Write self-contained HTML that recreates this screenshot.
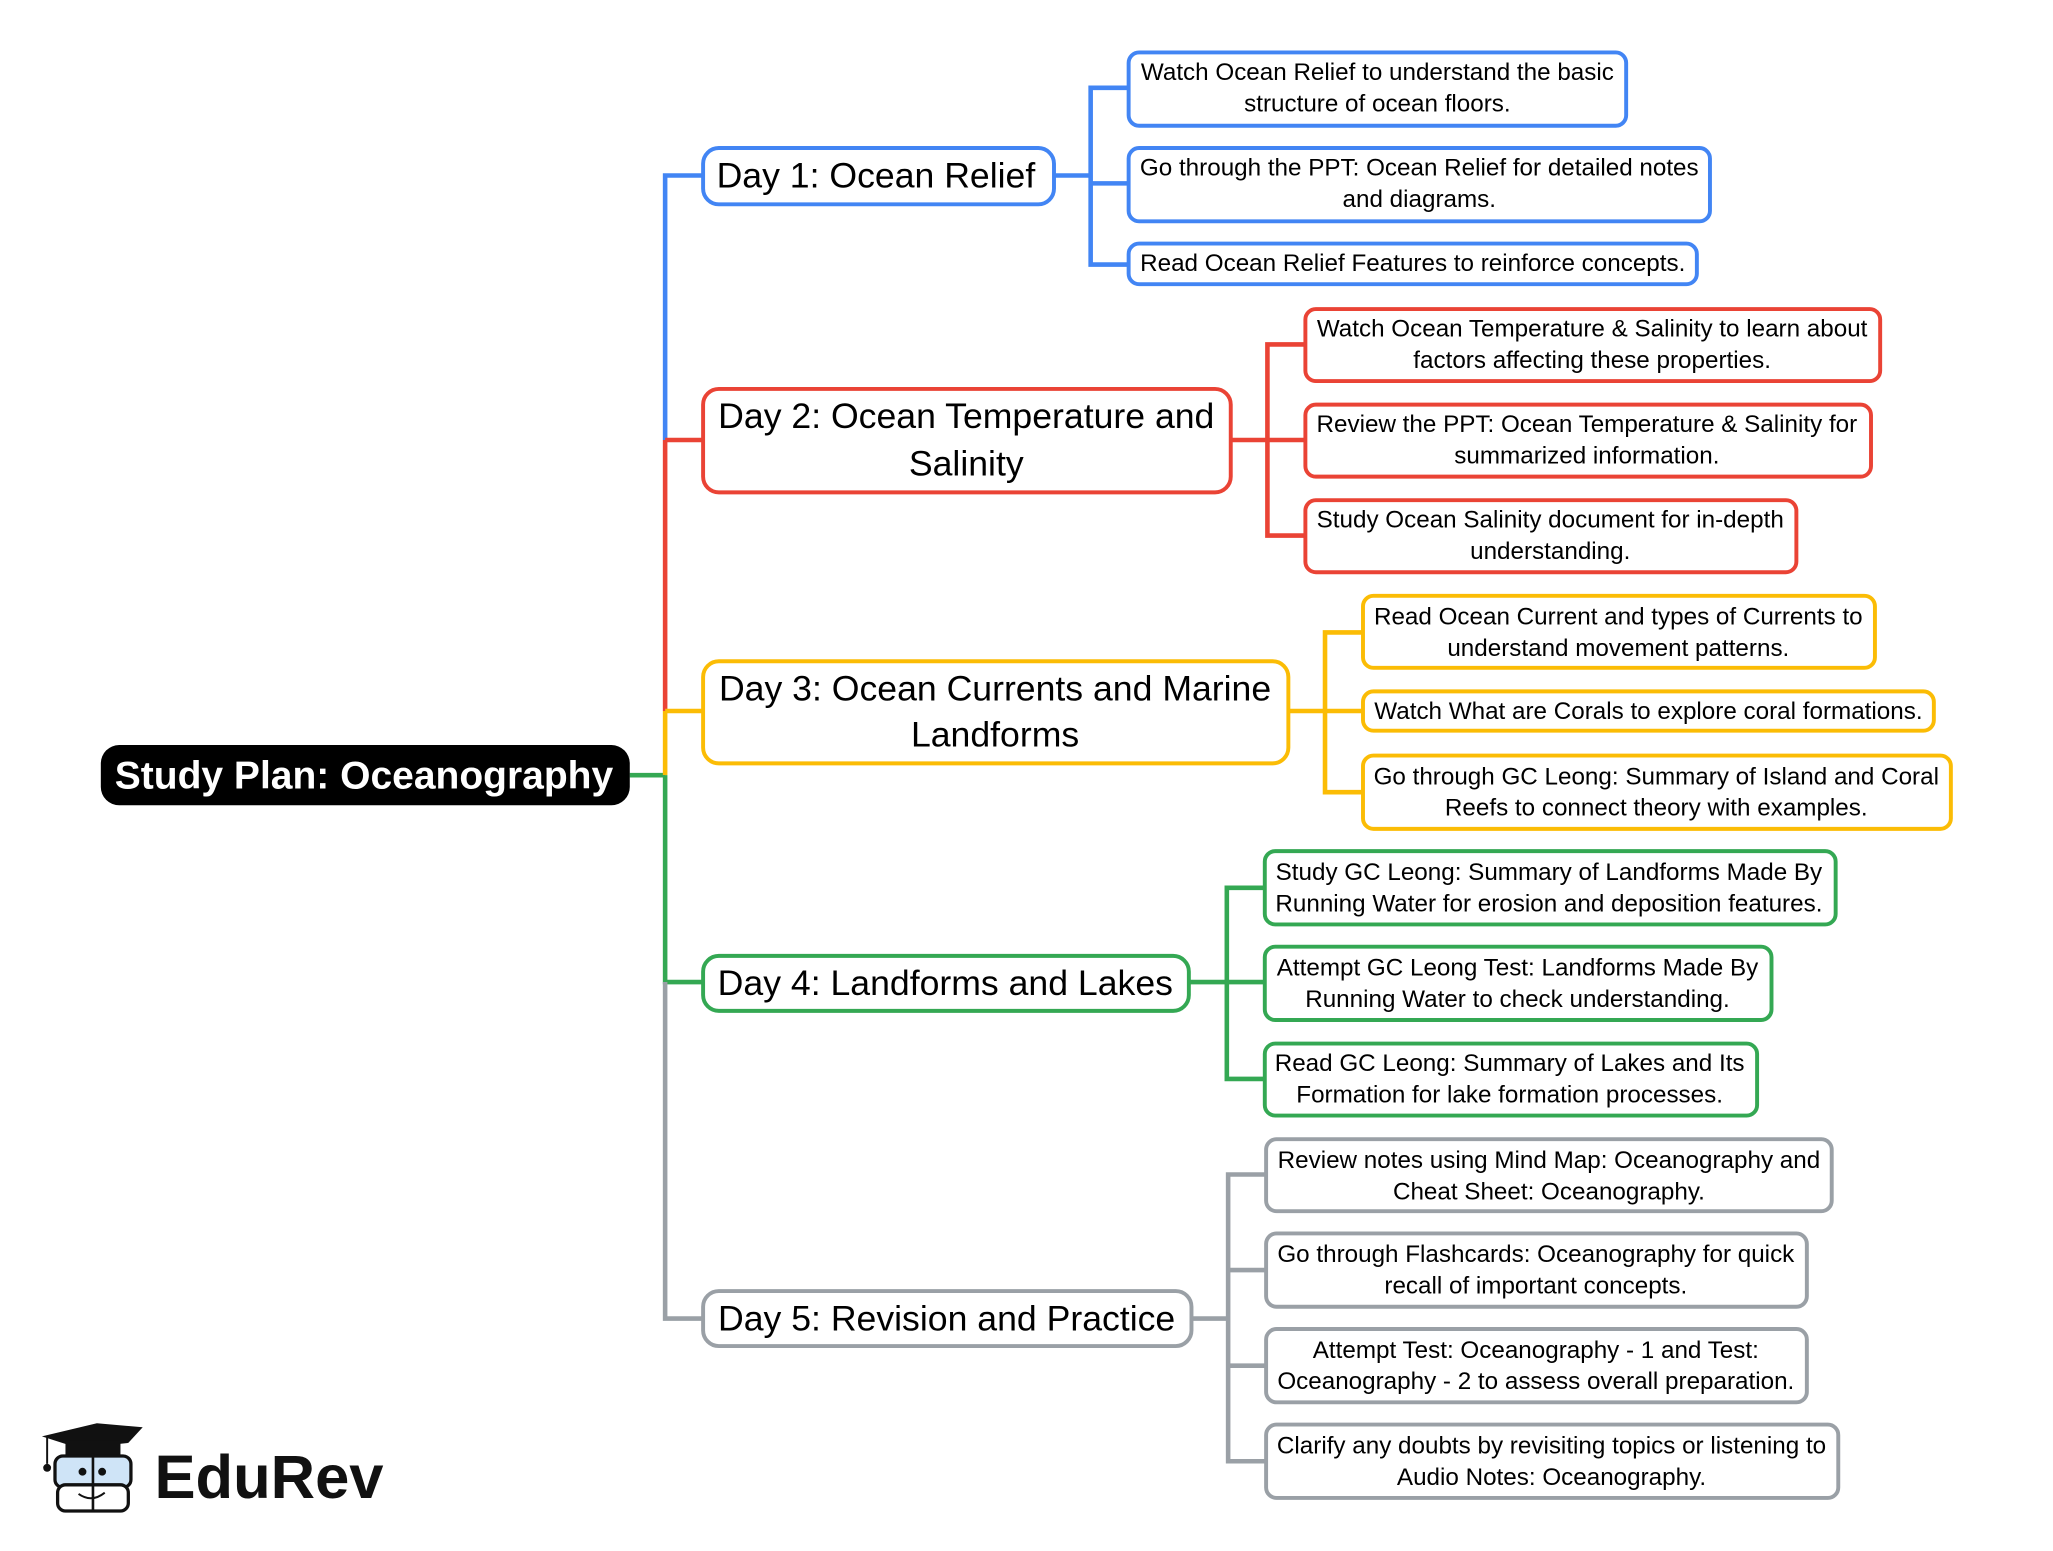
<!DOCTYPE html>
<html><head><meta charset="utf-8"><style>
html,body{margin:0;padding:0;background:#fff;width:2053px;height:1551px;overflow:hidden}
svg{display:block}
text{font-family:"Liberation Sans",Arial,sans-serif;fill:#000}
.c{font-size:18.5px;text-anchor:middle}
.d{font-size:27.2px;text-anchor:middle}
</style></head><body>
<svg width="2053" height="1551" viewBox="0 0 1568 1184.5" xmlns="http://www.w3.org/2000/svg">
<g fill="none" stroke-width="3.5">
<path d="M481 592H508" stroke="#34A853"/>
<path d="M537 134H508V336" stroke="#4285F4"/>
<path d="M508 336V543" stroke="#EA4335"/><path d="M508 336H537" stroke="#EA4335"/>
<path d="M508 543V592" stroke="#FBBC05"/><path d="M508 543H537" stroke="#FBBC05"/>
<path d="M508 592V750H537" stroke="#34A853"/>
<path d="M508 750V1007H537" stroke="#9AA0A6"/>
<path d="M805 134H833M862 67H833V202H862M833 140H862" stroke="#4285F4"/>
<path d="M940 336H968M997 263H968V409H997M968 336H997" stroke="#EA4335"/>
<path d="M984 543H1012M1041 483H1012V605H1041M1012 543H1041" stroke="#FBBC05"/>
<path d="M908 750H937M966 678H937V824H966M937 750H966" stroke="#34A853"/>
<path d="M910 1007H938M967 897H938V1116H967M938 970H967M938 1043H967" stroke="#9AA0A6"/>
</g>
<rect x="77" y="569" width="404" height="46" rx="14" fill="#000"/>
<text x="278" y="602" style="font-size:29.8px;font-weight:bold;fill:#fff;text-anchor:middle">Study Plan: Oceanography</text>
<g fill="#fff" stroke-width="3">
<rect x="537" y="113" width="268" height="43" rx="12" stroke="#4285F4"/>
<rect x="537" y="297" width="403" height="79" rx="12" stroke="#EA4335"/>
<rect x="537" y="505" width="447" height="78" rx="12" stroke="#FBBC05"/>
<rect x="537" y="730" width="371" height="42" rx="12" stroke="#34A853"/>
<rect x="537" y="986" width="373" height="42" rx="12" stroke="#9AA0A6"/>
<rect x="862" y="40" width="380" height="56" rx="8" stroke="#4285F4"/>
<rect x="862" y="113" width="444" height="56" rx="8" stroke="#4285F4"/>
<rect x="862" y="186" width="434" height="31" rx="8" stroke="#4285F4"/>
<rect x="997" y="236" width="439" height="55" rx="8" stroke="#EA4335"/>
<rect x="997" y="309" width="432" height="55" rx="8" stroke="#EA4335"/>
<rect x="997" y="382" width="375" height="55" rx="8" stroke="#EA4335"/>
<rect x="1041" y="455" width="391" height="55" rx="8" stroke="#FBBC05"/>
<rect x="1041" y="528" width="436" height="30" rx="8" stroke="#FBBC05"/>
<rect x="1041" y="577" width="449" height="56" rx="8" stroke="#FBBC05"/>
<rect x="966" y="650" width="436" height="56" rx="8" stroke="#34A853"/>
<rect x="966" y="723" width="387" height="56" rx="8" stroke="#34A853"/>
<rect x="966" y="797" width="376" height="55" rx="8" stroke="#34A853"/>
<rect x="967" y="870" width="432" height="55" rx="8" stroke="#9AA0A6"/>
<rect x="967" y="942" width="413" height="56" rx="8" stroke="#9AA0A6"/>
<rect x="967" y="1015" width="413" height="56" rx="8" stroke="#9AA0A6"/>
<rect x="967" y="1088" width="437" height="56" rx="8" stroke="#9AA0A6"/>
</g>
<text class="d" x="669" y="143">Day 1: Ocean Relief</text>
<text class="d" x="738" y="327">Day 2: Ocean Temperature and</text>
<text class="d" x="738" y="363">Salinity</text>
<text class="d" x="760" y="535">Day 3: Ocean Currents and Marine</text>
<text class="d" x="760" y="570">Landforms</text>
<text class="d" x="722" y="760">Day 4: Landforms and Lakes</text>
<text class="d" x="723" y="1016">Day 5: Revision and Practice</text>

<text class="c" x="1052" y="61">Watch Ocean Relief to understand the basic</text>
<text class="c" x="1052" y="85">structure of ocean floors.</text>
<text class="c" x="1084" y="134">Go through the PPT: Ocean Relief for detailed notes</text>
<text class="c" x="1084" y="158">and diagrams.</text>
<text class="c" x="1079" y="207">Read Ocean Relief Features to reinforce concepts.</text>
<text class="c" x="1216" y="257">Watch Ocean Temperature &amp; Salinity to learn about</text>
<text class="c" x="1216" y="281">factors affecting these properties.</text>
<text class="c" x="1212" y="330">Review the PPT: Ocean Temperature &amp; Salinity for</text>
<text class="c" x="1212" y="354">summarized information.</text>
<text class="c" x="1184" y="403">Study Ocean Salinity document for in-depth</text>
<text class="c" x="1184" y="427">understanding.</text>
<text class="c" x="1236" y="477">Read Ocean Current and types of Currents to</text>
<text class="c" x="1236" y="501">understand movement patterns.</text>
<text class="c" x="1259" y="549">Watch What are Corals to explore coral formations.</text>
<text class="c" x="1265" y="599">Go through GC Leong: Summary of Island and Coral</text>
<text class="c" x="1265" y="623">Reefs to connect theory with examples.</text>
<text class="c" x="1183" y="672">Study GC Leong: Summary of Landforms Made By</text>
<text class="c" x="1183" y="696">Running Water for erosion and deposition features.</text>
<text class="c" x="1159" y="745">Attempt GC Leong Test: Landforms Made By</text>
<text class="c" x="1159" y="769">Running Water to check understanding.</text>
<text class="c" x="1153" y="818">Read GC Leong: Summary of Lakes and Its</text>
<text class="c" x="1153" y="842">Formation for lake formation processes.</text>
<text class="c" x="1183" y="892">Review notes using Mind Map: Oceanography and</text>
<text class="c" x="1183" y="916">Cheat Sheet: Oceanography.</text>
<text class="c" x="1173" y="964">Go through Flashcards: Oceanography for quick</text>
<text class="c" x="1173" y="988">recall of important concepts.</text>
<text class="c" x="1173" y="1037">Attempt Test: Oceanography - 1 and Test:</text>
<text class="c" x="1173" y="1061">Oceanography - 2 to assess overall preparation.</text>
<text class="c" x="1185" y="1110">Clarify any doubts by revisiting topics or listening to</text>
<text class="c" x="1185" y="1134">Audio Notes: Oceanography.</text>

<polygon points="32,1097 74,1087 109,1090 98,1102 60,1106" fill="#111"/>
<rect x="50" y="1100" width="42" height="12" fill="#111"/>
<line x1="36" y1="1097" x2="36" y2="1118" stroke="#111" stroke-width="1.5"/>
<circle cx="36" cy="1121" r="3" fill="#111"/>
<rect x="42" y="1112" width="58" height="24" rx="6" fill="#cfe4f7" stroke="#111" stroke-width="2.5"/>
<rect x="44" y="1134" width="54" height="20" rx="6" fill="#fff" stroke="#111" stroke-width="2.5"/>
<line x1="71" y1="1110" x2="71" y2="1155" stroke="#111" stroke-width="2"/>
<circle cx="63" cy="1124" r="3" fill="#111"/><circle cx="78" cy="1124" r="3" fill="#111"/>
<path d="M60 1141 Q70 1148 80 1140" fill="none" stroke="#111" stroke-width="1.5"/>
<text x="118" y="1144" style="font-size:47px;font-weight:bold;fill:#111">EduRev</text>
</svg>
</body></html>
